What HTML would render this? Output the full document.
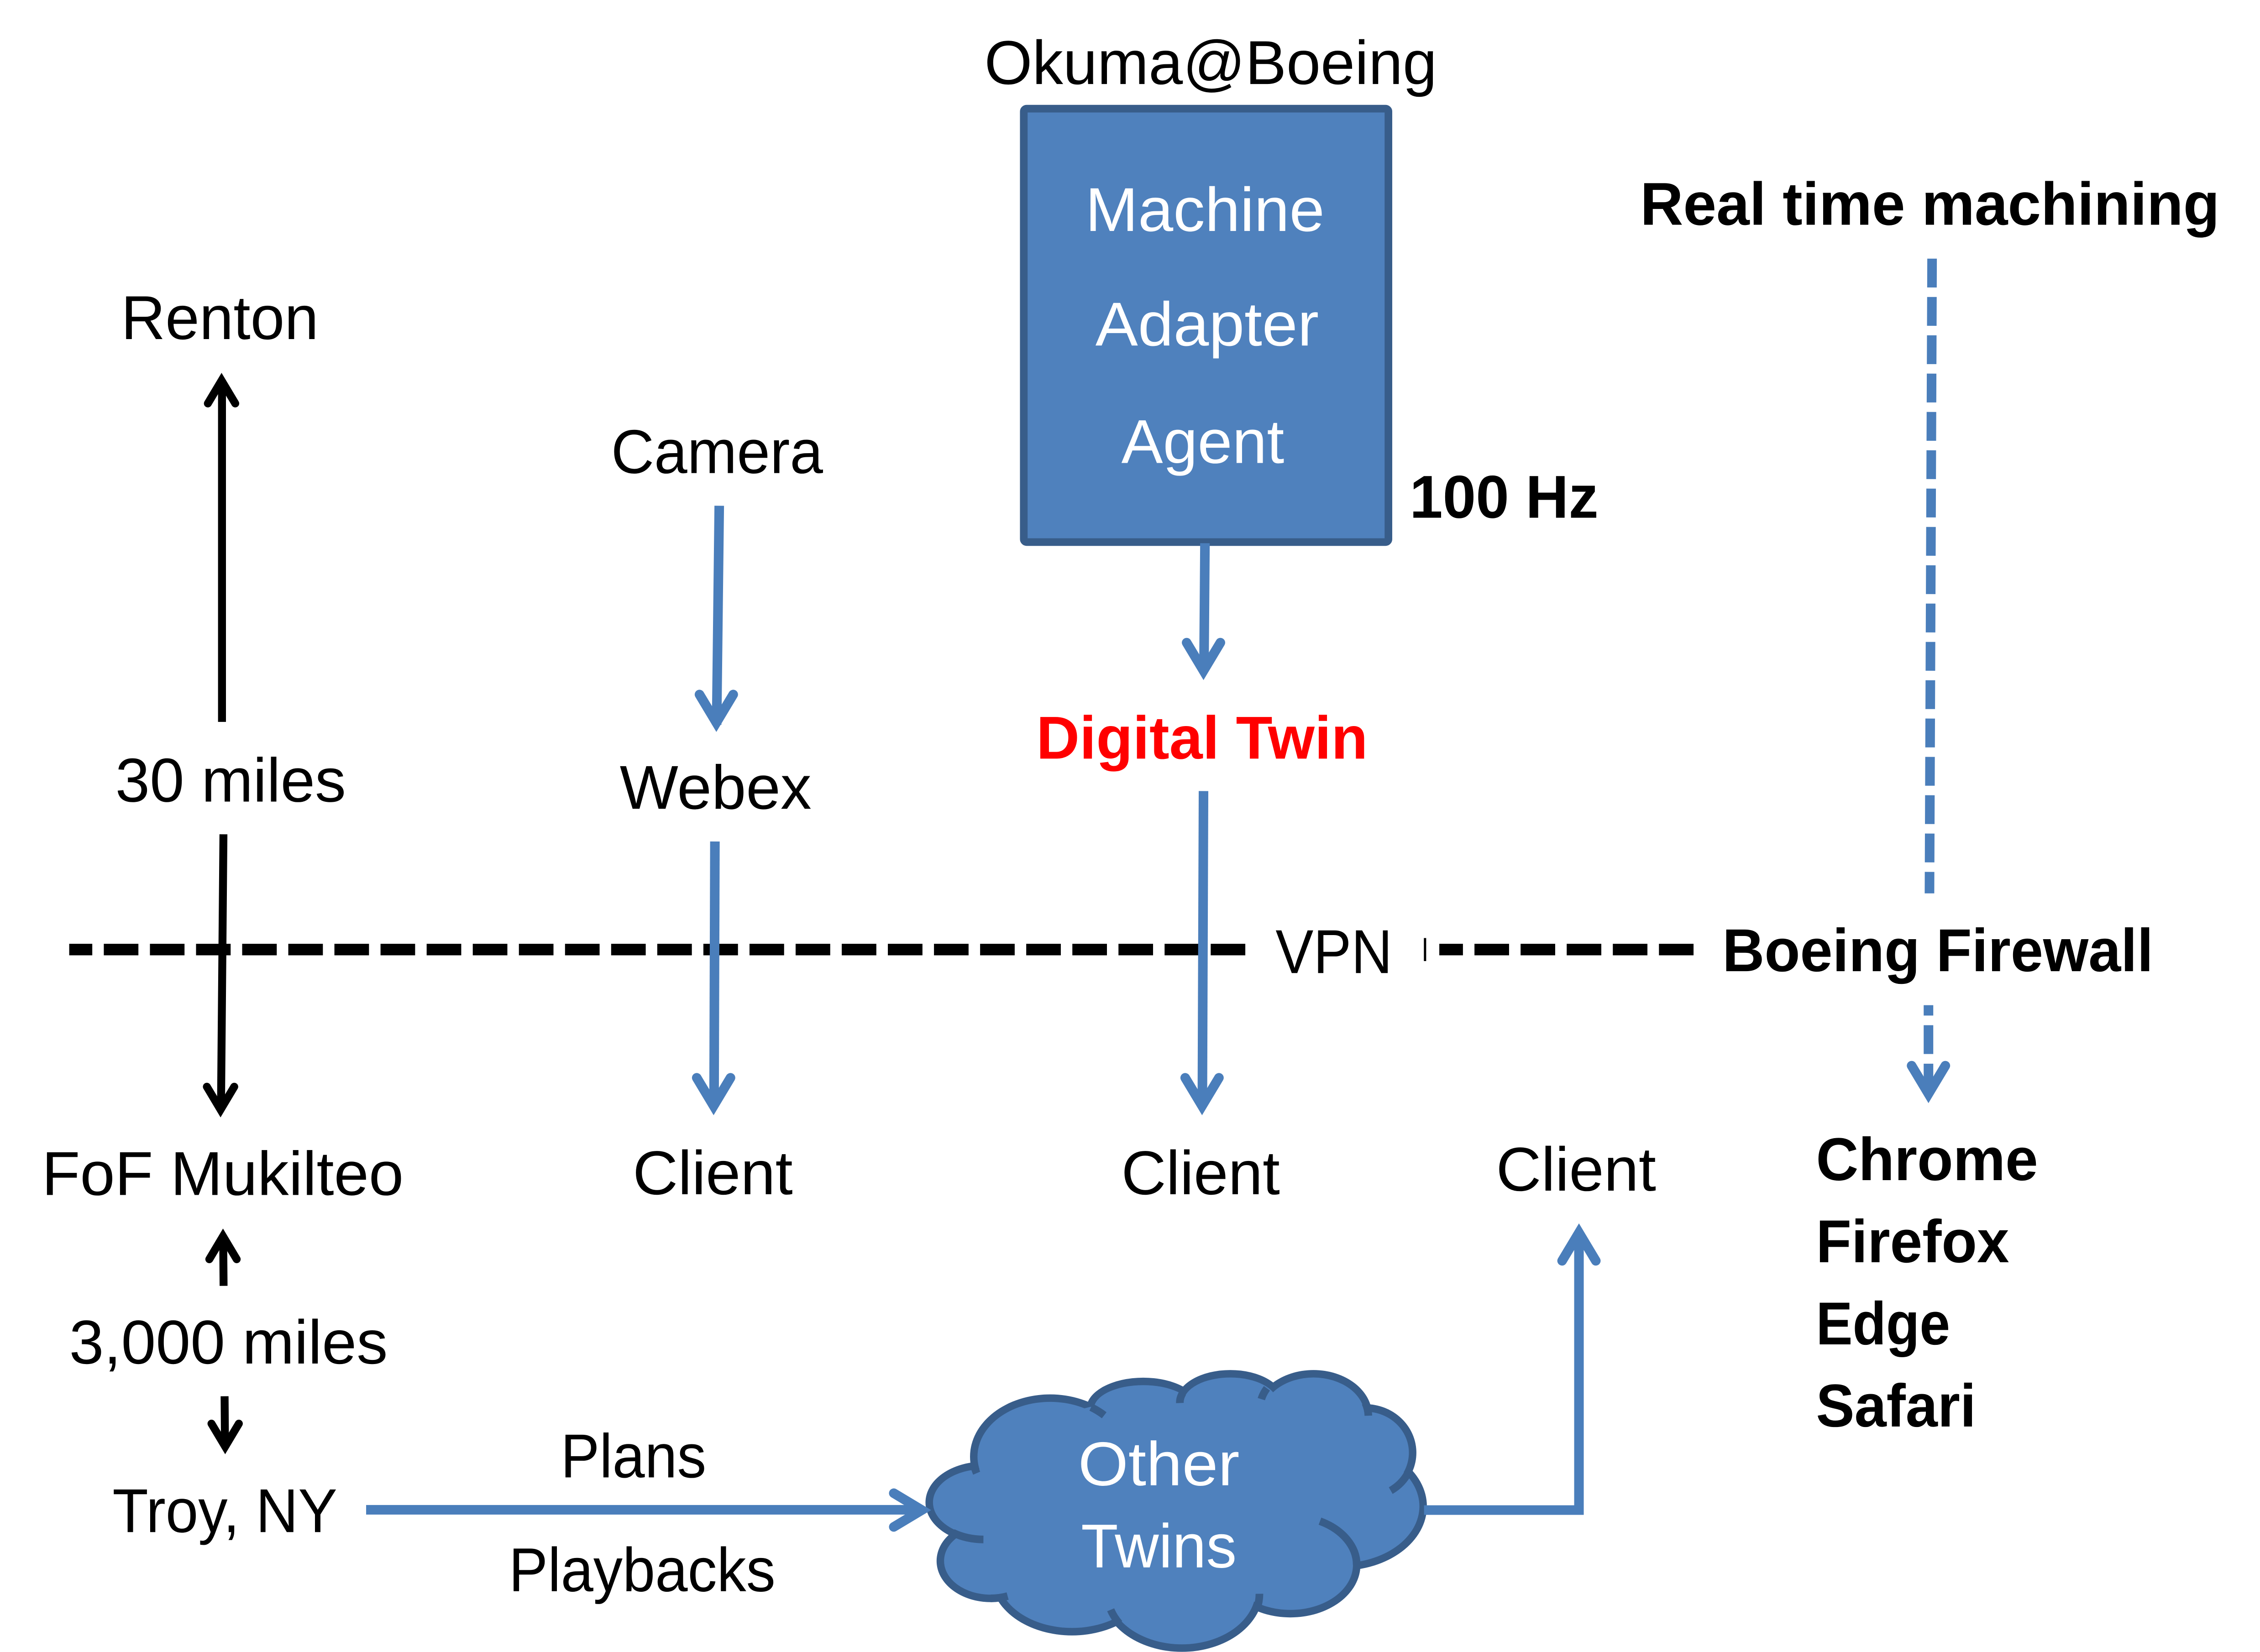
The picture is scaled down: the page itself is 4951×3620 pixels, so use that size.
<!DOCTYPE html>
<html><head><meta charset="utf-8"><style>
html,body{margin:0;padding:0;background:#fff}
svg{display:block}
text{font-family:"Liberation Sans",sans-serif;font-size:43px;fill:#000}
.b{font-weight:bold;font-size:42px}
.w{fill:#fff}
</style></head><body>
<svg xmlns="http://www.w3.org/2000/svg" width="4951" height="3620" viewBox="0 0 1568 1146.5">
<rect width="1568" height="1146.5" fill="#fff"/>
<!-- firewall -->
<g fill="none" stroke="#000">
<path d="M864 659H48" stroke-width="8" stroke-dasharray="24 8"/>
<path d="M1175 659H998.6" stroke-width="8" stroke-dasharray="24 8"/>
<path d="M988.7 651V667" stroke-width="1.6"/>
</g>
<!-- box -->
<rect x="710.3" y="75.4" width="253" height="300.8" rx="2" fill="#4f81bd" stroke="#385d8a" stroke-width="5.3"/>
<!-- cloud -->
<g fill="#385d8a">
<ellipse cx="728.6" cy="1010.9" rx="55.6" ry="43.2"/>
<ellipse cx="793.2" cy="977.7" rx="39.4" ry="21.6"/>
<ellipse cx="853.6" cy="973" rx="37.5" ry="22.2"/>
<ellipse cx="911.3" cy="982.5" rx="40.7" ry="31.7"/>
<ellipse cx="947.3" cy="1008.2" rx="35.4" ry="33.7"/>
<ellipse cx="930.2" cy="1045.4" rx="59.8" ry="44.6"/>
<ellipse cx="895.3" cy="1086" rx="48.6" ry="36.5"/>
<ellipse cx="820" cy="1103.7" rx="56.4" ry="42.7"/>
<ellipse cx="743.8" cy="1094.2" rx="56.4" ry="40.8"/>
<ellipse cx="687.3" cy="1083.3" rx="37.5" ry="28.6"/>
<ellipse cx="682.3" cy="1042.7" rx="40.2" ry="28.3"/>
</g>
<g fill="#4f81bd">
<ellipse cx="728.6" cy="1010.9" rx="50.4" ry="38"/>
<ellipse cx="793.2" cy="977.7" rx="34.2" ry="16.4"/>
<ellipse cx="853.6" cy="973" rx="32.3" ry="17"/>
<ellipse cx="911.3" cy="982.5" rx="35.5" ry="26.5"/>
<ellipse cx="947.3" cy="1008.2" rx="30.2" ry="28.5"/>
<ellipse cx="930.2" cy="1045.4" rx="54.6" ry="39.4"/>
<ellipse cx="895.3" cy="1086" rx="43.4" ry="31.3"/>
<ellipse cx="820" cy="1103.7" rx="51.2" ry="37.5"/>
<ellipse cx="743.8" cy="1094.2" rx="51.2" ry="35.6"/>
<ellipse cx="687.3" cy="1083.3" rx="32.3" ry="23.4"/>
<ellipse cx="682.3" cy="1042.7" rx="35" ry="23.1"/>
<ellipse cx="815" cy="1040" rx="140" ry="70"/>
</g>
<g fill="none" stroke="#385d8a" stroke-width="5.3">
<path d="M757 976.6A53 40.6 0 0 1 766.1 982.2"/>
<path d="M675.5 1015.6A53 40.6 0 0 0 677.6 1022.4"/>
<path d="M820.5 966.9A34.9 19.6 0 0 0 818.6 973.7"/>
<path d="M879 963.5A38.1 29.1 0 0 0 875.1 971"/>
<path d="M947.3 973.7A38.1 29.1 0 0 1 949.4 982.5"/>
<path d="M977.5 1021.1A32.8 31.1 0 0 1 964.9 1034.5"/>
<path d="M915.8 1055.7A46 33.9 0 0 1 941.3 1086"/>
<path d="M873.8 1106.1A53.8 40.1 0 0 1 872 1116.5"/>
<path d="M770.6 1117.2A53.8 40.1 0 0 0 776.6 1126.7"/>
<path d="M687.3 1109.3A34.9 26 0 0 0 699.1 1107.7"/>
<path d="M661.1 1063.7A37.6 25.7 0 0 0 682.3 1068.4"/>
</g>
<!-- black arrows -->
<g fill="none" stroke="#000" stroke-width="5.5" stroke-miterlimit="10">
<path d="M154 501V266"/><path d="M144.2 280L153.7 264.1L163.2 280" stroke-linecap="round"/>
<path d="M155 579L153.3 770"/><path d="M143.5 754.2L153 770.1L162.5 754.2" stroke-linecap="round"/>
<path d="M155.1 892.4L154.8 858"/><path d="M145.2 873.9L154.7 858L164.2 873.9" stroke-linecap="round"/>
<path d="M155.8 969L156.1 1004"/><path d="M146.7 988L156.2 1003.9L165.7 988" stroke-linecap="round"/>
</g>
<!-- blue arrows -->
<g fill="none" stroke="#4a7ebb" stroke-width="6.65" stroke-miterlimit="10">
<path d="M499 351L497.2 503"/><path d="M485.3 482L497 501.5L508.7 482" stroke-linecap="round"/>
<path d="M496 584L495.4 768"/><path d="M483.4 748L495.1 767.5L506.8 748" stroke-linecap="round"/>
<path d="M836 377L835.3 466"/><path d="M823.3 446L835 465.5L846.7 446" stroke-linecap="round"/>
<path d="M835 549L834.2 768"/><path d="M822.3 748L834 767.5L845.7 748" stroke-linecap="round"/>
<path d="M1340.5 179.5L1338.7 620" stroke-dasharray="20 6.6"/>
<path d="M1338 697.6V704.8M1338 711.5V731.5M1338 738.2V759"/>
<path d="M1326.3 739.6L1338 759.1L1349.7 739.6" stroke-linecap="round"/>
<path d="M254 1047.8H640"/><path d="M620.1 1036.3L639.6 1048L620.1 1059.7" stroke-linecap="round"/>
<path d="M988 1048H1095.5V856"/><path d="M1083.8 875L1095.5 855.5L1107.2 875" stroke-linecap="round"/>
</g>
<!-- labels -->
<text x="683" y="58.3" textLength="314" lengthAdjust="spacingAndGlyphs">Okuma@Boeing</text>
<text class="w" x="753" y="160.3" textLength="166" lengthAdjust="spacingAndGlyphs">Machine</text>
<text class="w" x="760" y="239.8" textLength="155" lengthAdjust="spacingAndGlyphs">Adapter</text>
<text class="w" x="778" y="321.3" textLength="113" lengthAdjust="spacingAndGlyphs">Agent</text>
<text class="b" x="978" y="359.3" textLength="131" lengthAdjust="spacingAndGlyphs">100 Hz</text>
<text class="b" x="1138" y="156" textLength="402" lengthAdjust="spacingAndGlyphs">Real time machining</text>
<text x="84" y="235.3" textLength="137" lengthAdjust="spacingAndGlyphs">Renton</text>
<text x="424" y="328.3" textLength="147" lengthAdjust="spacingAndGlyphs">Camera</text>
<text class="b" x="719" y="526.5" textLength="230" lengthAdjust="spacingAndGlyphs" style="fill:#ff0000">Digital Twin</text>
<text x="80" y="556.3" textLength="160" lengthAdjust="spacingAndGlyphs">30 miles</text>
<text x="430" y="561.3" textLength="133" lengthAdjust="spacingAndGlyphs">Webex</text>
<text x="885" y="675.3" textLength="81" lengthAdjust="spacingAndGlyphs">VPN</text>
<text class="b" x="1195" y="674" textLength="299" lengthAdjust="spacingAndGlyphs">Boeing Firewall</text>
<text x="29" y="829.3" textLength="251" lengthAdjust="spacingAndGlyphs">FoF Mukilteo</text>
<text x="439" y="828.8" textLength="111" lengthAdjust="spacingAndGlyphs">Client</text>
<text x="778" y="828.8" textLength="110" lengthAdjust="spacingAndGlyphs">Client</text>
<text x="1038" y="826.3" textLength="111" lengthAdjust="spacingAndGlyphs">Client</text>
<text class="b" x="1260" y="819" textLength="154" lengthAdjust="spacingAndGlyphs">Chrome</text>
<text class="b" x="1260" y="876" textLength="134" lengthAdjust="spacingAndGlyphs">Firefox</text>
<text class="b" x="1260" y="933" textLength="93" lengthAdjust="spacingAndGlyphs">Edge</text>
<text class="b" x="1260" y="990" textLength="111" lengthAdjust="spacingAndGlyphs">Safari</text>
<text x="48" y="946.3" textLength="221" lengthAdjust="spacingAndGlyphs">3,000 miles</text>
<text x="78" y="1063.3" textLength="156" lengthAdjust="spacingAndGlyphs">Troy, NY</text>
<text x="389" y="1025.3" textLength="101" lengthAdjust="spacingAndGlyphs">Plans</text>
<text x="353" y="1104.3" textLength="185" lengthAdjust="spacingAndGlyphs">Playbacks</text>
<text class="w" x="748" y="1030.8" textLength="112" lengthAdjust="spacingAndGlyphs">Other</text>
<text class="w" x="750" y="1087.8" textLength="108" lengthAdjust="spacingAndGlyphs">Twins</text>
</svg>
</body></html>
